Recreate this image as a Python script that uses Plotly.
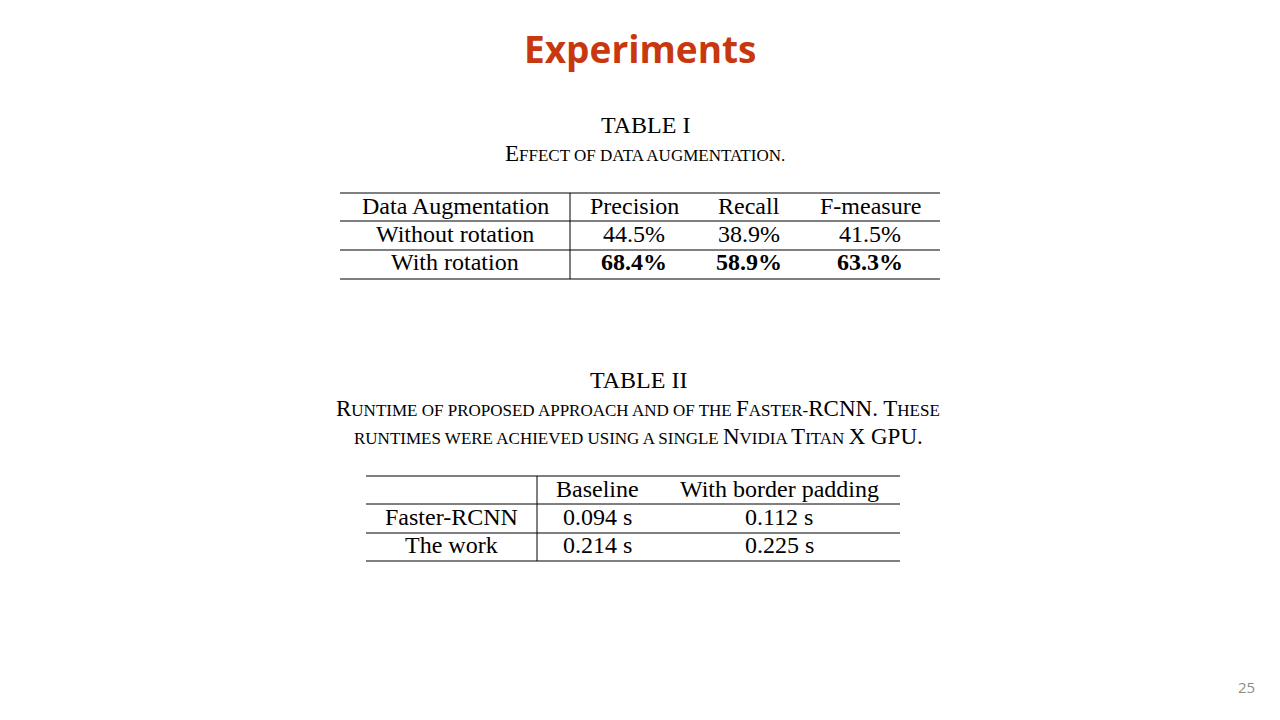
import plotly.graph_objects as go

# table I data
t1_header = ["Data Augmentation", "Precision", "Recall", "F-measure"]
t1_rows = ["Without rotation", "With rotation"]
t1_precision = ["44.5%", "68.4%"]
t1_recall = ["38.9%", "58.9%"]
t1_fmeasure = ["41.5%", "63.3%"]

# table II data
t2_header = ["", "Baseline", "With border padding"]
t2_rows = ["Faster-RCNN", "The work"]
t2_baseline = ["0.094 s", "0.214 s"]
t2_padding = ["0.112 s", "0.225 s"]

serif = "Liberation Serif"
fig = go.Figure()
fig.add_trace(go.Scatter(x=[0, 1280], y=[0, 720], mode="markers", marker=dict(opacity=0), hoverinfo="skip"))

def txt(x, y, s, size=24, bold=False, family=serif, color="black", anchor="center"):
    if bold:
        s = "<b>" + s + "</b>"
    fig.add_annotation(x=x, y=y, text=s, showarrow=False, xanchor=anchor, yanchor="middle",
                       font=dict(family=family, size=size, color=color))

def hline(x0, x1, y):
    fig.add_shape(type="line", x0=x0, x1=x1, y0=y, y1=y, line=dict(color="black", width=1))

def vline(x, y0, y1):
    fig.add_shape(type="line", x0=x, x1=x1 if False else x, y0=y0, y1=y1, line=dict(color="black", width=1))

def sc(text):
    # fake small caps: capitals full size, lowercase shown as smaller capitals
    out = ""
    small = ""
    for ch in text:
        if ch.islower() or (small and not ch.isupper()):
            small += ch.upper()
        else:
            if small:
                out += "<span style='font-size:17px'>" + small + "</span>"
                small = ""
            out += ch
    if small:
        out += "<span style='font-size:17px'>" + small + "</span>"
    return out

txt(640, 48, "Experiments", size=37, bold=True, family="Open Sans", color="#C8380E")

# TABLE I
txt(645, 125, "TABLE I")
txt(645, 153, sc("Effect of data augmentation."), size=23)
cols1 = [455, 634, 749, 870]
for c, h in zip(cols1, t1_header):
    txt(c, 206, h)
ys1 = [234, 262]
for i in range(len(t1_rows)):
    b = i == 1
    txt(cols1[0], ys1[i], t1_rows[i])
    txt(cols1[1], ys1[i], t1_precision[i], bold=b)
    txt(cols1[2], ys1[i], t1_recall[i], bold=b)
    txt(cols1[3], ys1[i], t1_fmeasure[i], bold=b)
for y in [193, 221, 250, 279]:
    hline(340, 940, y)
vline(570, 193, 279)

# TABLE II
txt(638, 380, "TABLE II")
txt(638, 408, sc("Runtime of proposed approach and of the Faster-RCNN. These"), size=23)
txt(638, 436, sc("runtimes were achieved using a single Nvidia Titan X GPU."), size=23)
cols2 = [451, 597, 779]
for c, h in zip(cols2, t2_header):
    txt(c, 489, h)
ys2 = [517, 545]
for i in range(len(t2_rows)):
    txt(cols2[0], ys2[i], t2_rows[i])
    txt(cols2[1], ys2[i], t2_baseline[i])
    txt(cols2[2], ys2[i], t2_padding[i])
for y in [476, 504, 533, 561]:
    hline(366, 900, y)
vline(537, 476, 561)

txt(1246, 687, "25", size=15, family="Open Sans", color="#8c8c8c")

# page body has an 8px margin, so shift the ranges to keep pixel coordinates
fig.update_xaxes(range=[8, 1288], visible=False, fixedrange=True)
fig.update_yaxes(range=[728, 8], visible=False, fixedrange=True)
fig.update_layout(width=1280, height=720, margin=dict(l=0, r=0, t=0, b=0),
                  plot_bgcolor="white", paper_bgcolor="white", showlegend=False)
fig.write_html("out.html")
